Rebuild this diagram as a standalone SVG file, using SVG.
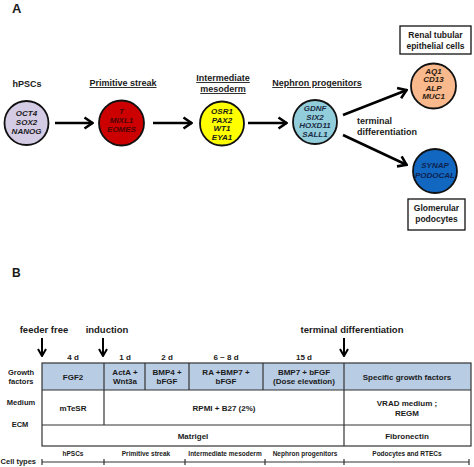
<svg xmlns="http://www.w3.org/2000/svg" width="474" height="467" viewBox="0 0 474 467">
<style>
text{font-family:"Liberation Sans",Arial,sans-serif;font-weight:bold;fill:#1a1a1a}
.lbl{font-size:9px;text-anchor:middle}
.ul{text-decoration:underline}
.gene{font-size:8px;font-style:italic;text-anchor:middle}
.circ{stroke:#111;stroke-width:1.8}
.arr{stroke:#000;stroke-width:2.6;fill:none}
.arrB{stroke:#000;stroke-width:2;fill:none}
.cell{font-size:8px;text-anchor:middle}
.row{font-size:7.5px;text-anchor:middle}
.ct{font-size:6.5px;text-anchor:middle}
.grid{stroke:#333;stroke-width:1.2;fill:none}
.box{fill:#fff;stroke:#111;stroke-width:1.3}
</style>
<defs>
<marker id="ah" viewBox="0 0 12 14" refX="11" refY="7" markerWidth="12" markerHeight="14" orient="auto" markerUnits="userSpaceOnUse">
<path d="M2.5,1.5 L10.5,7 L2.5,12.5" fill="none" stroke="#000" stroke-width="2.6"/>
</marker>
<marker id="ahB" viewBox="0 0 10 10" refX="9" refY="5" markerWidth="10" markerHeight="10" orient="auto" markerUnits="userSpaceOnUse">
<path d="M2,1 L9,5 L2,9" fill="none" stroke="#000" stroke-width="2"/>
</marker>
</defs>
<rect width="474" height="467" fill="#fff"/>

<!-- Panel A -->
<text x="12" y="13" style="font-size:13px">A</text>

<g id="connectorsA">
<line class="arr" x1="55" y1="123" x2="93" y2="123" marker-end="url(#ah)"/>
<line class="arr" x1="153" y1="123" x2="192" y2="123" marker-end="url(#ah)"/>
<line class="arr" x1="248" y1="123" x2="287" y2="123" marker-end="url(#ah)"/>
<line class="arr" x1="343" y1="115" x2="407" y2="90" marker-end="url(#ah)"/>
<line class="arr" x1="343" y1="135" x2="407" y2="165" marker-end="url(#ah)"/>
</g>

<g id="hpsc">
<text class="lbl" x="27" y="87">hPSCs</text>
<circle class="circ" cx="26.5" cy="123" r="22" fill="#d4cbe4"/>
<text class="gene" x="26.5" y="116">OCT4</text>
<text class="gene" x="26.5" y="125">SOX2</text>
<text class="gene" x="26.5" y="134">NANOG</text>
</g>

<g id="ps">
<text class="lbl ul" x="123" y="86">Primitive streak</text>
<circle class="circ" cx="121.5" cy="123" r="22.5" fill="#cc0000"/>
<text class="gene" x="121.5" y="114" style="fill:#4a0505">T</text>
<text class="gene" x="121.5" y="123" style="fill:#4a0505">MIXL1</text>
<text class="gene" x="121.5" y="132" style="fill:#4a0505">EOMES</text>
</g>

<g id="im">
<text class="lbl ul" x="223" y="81">Intermediate</text>
<text class="lbl ul" x="223" y="92">mesoderm</text>
<circle class="circ" cx="222" cy="123.5" r="22" fill="#ffff00"/>
<text class="gene" x="222" y="114">OSR1</text>
<text class="gene" x="222" y="122.5">PAX2</text>
<text class="gene" x="222" y="131">WT1</text>
<text class="gene" x="222" y="139.5">EYA1</text>
</g>

<g id="np">
<text class="lbl ul" x="317" y="86">Nephron progenitors</text>
<circle class="circ" cx="315" cy="122" r="22" fill="#92cddc"/>
<text class="gene" x="315" y="111" style="fill:#1c2c44">GDNF</text>
<text class="gene" x="315" y="119.5" style="fill:#1c2c44">SIX2</text>
<text class="gene" x="315" y="128" style="fill:#1c2c44">HOXD11</text>
<text class="gene" x="315" y="136.5" style="fill:#1c2c44">SALL1</text>
</g>

<g id="tdlabel">
<text x="357" y="124" style="font-size:9px">terminal</text>
<text x="357" y="135" style="font-size:9px">differentiation</text>
</g>

<g id="rtec">
<rect class="box" x="400" y="26" width="71" height="28"/>
<text class="lbl" x="435.5" y="38" style="font-size:8.5px">Renal tubular</text>
<text class="lbl" x="435.5" y="49" style="font-size:8.5px">epithelial cells</text>
<circle class="circ" cx="433.5" cy="86" r="22.5" fill="#fab98c"/>
<text class="gene" x="433.5" y="73.5" style="fill:#2a1a10">AQ1</text>
<text class="gene" x="433.5" y="82" style="fill:#2a1a10">CD13</text>
<text class="gene" x="433.5" y="90.5" style="fill:#2a1a10">ALP</text>
<text class="gene" x="433.5" y="99" style="fill:#2a1a10">MUC1</text>
</g>

<g id="podo">
<circle class="circ" cx="435" cy="171" r="22" fill="#1267c0"/>
<text class="gene" x="435" y="168" style="fill:#0d2350">SYNAP</text>
<text class="gene" x="435" y="178" style="fill:#0d2350">PODOCAL</text>
<rect class="box" x="408" y="199" width="57" height="31"/>
<text class="lbl" x="436.5" y="211" style="font-size:8.5px">Glomerular</text>
<text class="lbl" x="436.5" y="222" style="font-size:8.5px">podocytes</text>
</g>

<!-- Panel B -->
<text x="12" y="277" style="font-size:12px">B</text>

<g id="connectorsB">
<line class="arrB" x1="42" y1="338" x2="42" y2="356" marker-end="url(#ahB)"/>
<line class="arrB" x1="103" y1="338" x2="103" y2="356" marker-end="url(#ahB)"/>
<line class="arrB" x1="344" y1="338" x2="344" y2="356" marker-end="url(#ahB)"/>
</g>
<g id="events">
<text x="44" y="333" style="font-size:9.5px;text-anchor:middle">feeder free</text>
<text x="107" y="333" style="font-size:9.5px;text-anchor:middle">induction</text>
<text x="352" y="333" style="font-size:9.5px;text-anchor:middle">terminal differentiation</text>
</g>

<g id="days">
<text class="cell" x="73" y="360">4 d</text>
<text class="cell" x="125" y="360">1 d</text>
<text class="cell" x="167" y="360">2 d</text>
<text class="cell" x="226" y="360">6 ~ 8 d</text>
<text class="cell" x="304" y="360">15 d</text>
</g>

<g id="table">
<rect x="42" y="363" width="429" height="27" fill="#b8cce4"/>
<rect class="grid" x="42" y="363" width="429" height="83"/>
<line class="grid" x1="42" y1="390" x2="471" y2="390"/>
<line class="grid" x1="42" y1="425" x2="471" y2="425"/>
<line class="grid" x1="104" y1="363" x2="104" y2="425"/>
<line class="grid" x1="145" y1="363" x2="145" y2="390"/>
<line class="grid" x1="189" y1="363" x2="189" y2="390"/>
<line class="grid" x1="263" y1="363" x2="263" y2="390"/>
<line class="grid" x1="344" y1="363" x2="344" y2="446"/>

<text class="row" x="21" y="375">Growth</text>
<text class="row" x="21" y="384">factors</text>
<text class="row" x="21" y="405">Medium</text>
<text class="row" x="20" y="427">ECM</text>

<text class="cell" x="73" y="380">FGF2</text>
<text class="cell" x="125" y="375">ActA +</text>
<text class="cell" x="125" y="384">Wnt3a</text>
<text class="cell" x="167" y="375">BMP4 +</text>
<text class="cell" x="167" y="384">bFGF</text>
<text class="cell" x="226" y="375">RA +BMP7 +</text>
<text class="cell" x="226" y="384">bFGF</text>
<text class="cell" x="304" y="375">BMP7 + bFGF</text>
<text class="cell" x="304" y="384">(Dose elevation)</text>
<text class="cell" x="407" y="380">Specific growth factors</text>

<text class="cell" x="73" y="411">mTeSR</text>
<text class="cell" x="224" y="411">RPMI + B27 (2%)</text>
<text class="cell" x="407" y="406">VRAD medium ;</text>
<text class="cell" x="407" y="416">REGM</text>

<text class="cell" x="193" y="439">Matrigel</text>
<text class="cell" x="407" y="439">Fibronectin</text>
</g>

<g id="celltypes">
<text x="36" y="464" style="font-size:7.5px;text-anchor:end">Cell types</text>
<line class="grid" x1="42" y1="462" x2="469" y2="462"/>
<line class="grid" x1="42" y1="459" x2="42" y2="465"/>
<line class="grid" x1="104" y1="459" x2="104" y2="465"/>
<line class="grid" x1="185" y1="459" x2="185" y2="465"/>
<line class="grid" x1="265" y1="459" x2="265" y2="465"/>
<line class="grid" x1="344" y1="459" x2="344" y2="465"/>
<line class="grid" x1="469" y1="459" x2="469" y2="465"/>
<text class="ct" x="73" y="456">hPSCs</text>
<text class="ct" x="146" y="456">Primitive streak</text>
<text class="ct" x="225" y="456">Intermediate mesoderm</text>
<text class="ct" x="305" y="456">Nephron progenitors</text>
<text class="ct" x="407" y="456">Podocytes and RTECs</text>
</g>
</svg>
